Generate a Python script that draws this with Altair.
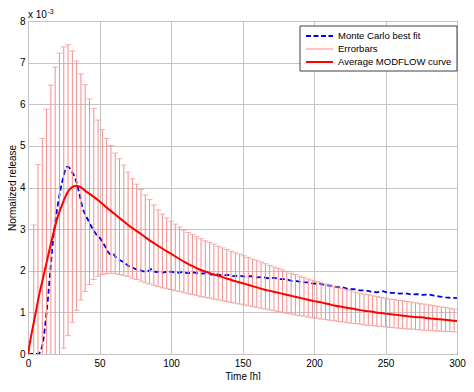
import altair as alt
import pandas as pd

# ---------------- data (values in units of 1e-3) ----------------
bar_t = list(range(1, 300, 3))
bar_hi = [
    0.30, 3.10, 4.55, 5.18, 5.88, 6.46, 6.89, 7.23, 7.38, 7.43,
    7.28, 7.04, 6.73, 6.47, 6.13, 5.90, 5.62, 5.39, 5.18, 5.01,
    4.83, 4.69, 4.54, 4.37, 4.21, 4.08, 3.95, 3.82, 3.71, 3.58,
    3.46, 3.36, 3.27, 3.19, 3.12, 3.05, 2.98, 2.92, 2.87, 2.82,
    2.77, 2.72, 2.68, 2.64, 2.59, 2.55, 2.51, 2.47, 2.43, 2.40,
    2.36, 2.32, 2.28, 2.25, 2.21, 2.17, 2.13, 2.09, 2.06, 2.02,
    1.98, 1.94, 1.91, 1.87, 1.84, 1.80, 1.77, 1.74, 1.71, 1.68,
    1.65, 1.62, 1.59, 1.57, 1.54, 1.52, 1.49, 1.46, 1.44, 1.42,
    1.40, 1.38, 1.36, 1.34, 1.32, 1.31, 1.29, 1.28, 1.26, 1.25,
    1.23, 1.21, 1.20, 1.18, 1.17, 1.15, 1.13, 1.12, 1.10, 1.08,
]
bar_lo = [
    -0.50, -1.60, -1.95, -1.70, -1.50, -1.05, -0.70, -0.40, 0.14, 0.44,
    0.76, 1.05, 1.30, 1.50, 1.67, 1.79, 1.87, 1.91, 1.93, 1.94,
    1.93, 1.91, 1.89, 1.86, 1.82, 1.79, 1.75, 1.71, 1.68, 1.65,
    1.62, 1.59, 1.57, 1.55, 1.52, 1.50, 1.47, 1.45, 1.43, 1.41,
    1.38, 1.36, 1.34, 1.32, 1.30, 1.28, 1.26, 1.24, 1.22, 1.20,
    1.18, 1.16, 1.14, 1.12, 1.10, 1.08, 1.06, 1.04, 1.02, 1.00,
    0.98, 0.96, 0.94, 0.92, 0.91, 0.89, 0.87, 0.86, 0.84, 0.83,
    0.81, 0.80, 0.78, 0.77, 0.75, 0.74, 0.73, 0.72, 0.70, 0.69,
    0.68, 0.67, 0.66, 0.65, 0.64, 0.63, 0.62, 0.61, 0.60, 0.60,
    0.59, 0.58, 0.57, 0.57, 0.56, 0.55, 0.55, 0.54, 0.54, 0.53,
]

red_t = [0, 2, 4, 6, 8, 10, 12, 14, 16, 18, 20, 22, 24, 26, 28, 30, 32, 34, 36, 38, 40,
         45, 50, 55, 60, 65, 70, 75, 80, 85, 90, 95, 100, 105, 110, 115, 120, 125, 130,
         135, 140, 145, 150, 155, 160, 165, 170, 175, 180, 185, 190, 195, 200, 205, 210,
         215, 220, 225, 230, 235, 240, 245, 250, 255, 260, 265, 270, 275, 280, 285, 290,
         295, 300]
red_v = [0, 0.40, 0.75, 1.10, 1.45, 1.75, 2.05, 2.35, 2.65, 2.93, 3.20, 3.42, 3.60, 3.77,
         3.90, 3.98, 4.03, 4.04, 4.02, 3.98, 3.92,
         3.80, 3.67, 3.52, 3.38, 3.24, 3.10, 2.98, 2.86, 2.73, 2.62, 2.51, 2.41, 2.30, 2.20,
         2.11, 2.03, 1.97, 1.91, 1.86, 1.80, 1.75, 1.70, 1.65, 1.60, 1.55, 1.51, 1.47, 1.43,
         1.39, 1.35, 1.31, 1.27, 1.24, 1.20, 1.16, 1.13, 1.10, 1.07, 1.04, 1.02, 0.99, 0.97,
         0.95, 0.93, 0.91, 0.89, 0.88, 0.86, 0.84, 0.83, 0.81, 0.79]

blue_t = [0, 4, 7, 8, 9, 10, 11, 12, 13, 14, 15, 16, 17, 18, 19, 20, 21, 22, 23, 24, 25,
          26, 27, 28, 29, 30, 31, 32, 33, 34, 35, 36, 37, 38, 39, 40, 42, 44, 46, 48, 50,
          52, 54, 56, 58, 60, 62, 64, 66, 68, 70, 72, 74, 76, 78, 80, 82, 84, 86, 88, 90,
          92, 94, 96, 98, 100, 104, 108, 112, 116, 120, 124, 128, 132, 136, 140, 144, 148,
          152, 156, 160, 164, 168, 172, 176, 180, 184, 188, 192, 196, 200, 204, 208, 212,
          216, 220, 224, 228, 232, 236, 240, 244, 248, 252, 256, 260, 264, 268, 272, 276,
          280, 284, 288, 292, 296, 300]
blue_v = [0, 0, 0, 0.02, 0.08, 0.20, 0.40, 0.68, 1.00, 1.35, 1.75, 2.15, 2.55, 2.88, 3.15,
          3.40, 3.62, 3.82, 4.00, 4.15, 4.30, 4.42, 4.49, 4.50, 4.47, 4.42, 4.36, 4.30, 4.22,
          4.12, 3.98, 3.84, 3.68, 3.54, 3.43, 3.35, 3.22, 3.08, 2.96, 2.86, 2.80, 2.70, 2.58,
          2.45, 2.37, 2.39, 2.30, 2.26, 2.22, 2.18, 2.12, 2.09, 2.06, 2.03, 2.03, 1.99, 1.98,
          1.99, 2.04, 1.98, 1.97, 1.98, 1.95, 1.97, 1.96, 1.98, 1.95, 1.97, 1.94, 1.96, 1.93,
          1.94, 1.91, 1.92, 1.88, 1.90, 1.87, 1.88, 1.86, 1.87, 1.84, 1.85, 1.82, 1.83, 1.80,
          1.80, 1.76, 1.75, 1.72, 1.72, 1.69, 1.69, 1.65, 1.64, 1.61, 1.60, 1.56, 1.56, 1.53,
          1.53, 1.50, 1.48, 1.51, 1.47, 1.47, 1.45, 1.46, 1.43, 1.44, 1.42, 1.43, 1.40, 1.38,
          1.36, 1.35, 1.34]

x_ticks = [0, 50, 100, 150, 200, 250, 300]
y_ticks = [0, 1, 2, 3, 4, 5, 6, 7, 8]
legend_labels = ["Monte Carlo best fit", "Errorbars", "Average MODFLOW curve"]

# ---------------- tables ----------------
n = min(len(bar_t), len(bar_hi), len(bar_lo))
bars = pd.DataFrame({"t": bar_t[:n], "hi": bar_hi[:n], "lo": bar_lo[:n]})
m = min(len(red_t), len(red_v))
red = pd.DataFrame({"t": red_t[:m], "v": red_v[:m]})
k = min(len(blue_t), len(blue_v))
blue = pd.DataFrame({"t": blue_t[:k], "v": blue_v[:k]})
one = pd.DataFrame({"a": [0]})

FONT = "Liberation Sans"
PINK = "#f28f8f"
RED = "#ff0000"
BLUE = "#0000e6"

W, H = 429, 333

xs = alt.Scale(domain=[0, 300], nice=False, zero=False)
ys = alt.Scale(domain=[0, 8], nice=False, zero=False)
xaxis = alt.Axis(values=x_ticks, title="Time [h]", grid=True, labelFlush=False,
                 labelPadding=4, titlePadding=3, format="d")
yaxis = alt.Axis(values=y_ticks, title="Normalized release", grid=True,
                 labelPadding=3, titlePadding=2, format="d")

X = alt.X("t:Q", scale=xs, axis=xaxis)

blue_line = alt.Chart(blue).mark_line(color=BLUE, strokeWidth=1.8, strokeDash=[5, 3],
                                      clip=True).encode(
    x=X, y=alt.Y("v:Q", scale=ys, axis=yaxis))

err_rule = alt.Chart(bars).mark_rule(color=PINK, strokeWidth=1, clip=True).encode(
    x=X, y=alt.Y("lo:Q", scale=ys, axis=yaxis), y2="hi:Q")
cap_hi = alt.Chart(bars).mark_tick(color=PINK, orient="horizontal", size=6, thickness=1,
                                   clip=True).encode(
    x=X, y=alt.Y("hi:Q", scale=ys, axis=yaxis))
cap_lo = alt.Chart(bars).mark_tick(color=PINK, orient="horizontal", size=6, thickness=1,
                                   clip=True).encode(
    x=X, y=alt.Y("lo:Q", scale=ys, axis=yaxis))

red_line = alt.Chart(red).mark_line(color=RED, strokeWidth=2, clip=True,
                                    interpolate="monotone").encode(
    x=X, y=alt.Y("v:Q", scale=ys, axis=yaxis))

# ---------------- legend (pixel layout) ----------------
LX0, LX1, LY0, LY1 = 272, 429, 5, 50
rows_y = [15, 28, 41]
leg_box = alt.Chart(one).mark_rect(fill="white", stroke="#404040", strokeWidth=1).encode(
    x=alt.value(LX0), x2=alt.value(LX1), y=alt.value(LY0), y2=alt.value(LY1))
leg_l1 = alt.Chart(one).mark_rule(color=BLUE, strokeWidth=1.8, strokeDash=[5, 2.5]).encode(
    x=alt.value(LX0 + 6), x2=alt.value(LX0 + 33), y=alt.value(rows_y[0]))
leg_l2 = alt.Chart(one).mark_rule(color=PINK, strokeWidth=1).encode(
    x=alt.value(LX0 + 6), x2=alt.value(LX0 + 33), y=alt.value(rows_y[1]))
leg_l3 = alt.Chart(one).mark_rule(color=RED, strokeWidth=2).encode(
    x=alt.value(LX0 + 6), x2=alt.value(LX0 + 33), y=alt.value(rows_y[2]))
leg_texts = [
    alt.Chart(one).mark_text(align="left", baseline="middle", font=FONT, fontSize=9.5,
                             color="black").encode(
        x=alt.value(LX0 + 38), y=alt.value(rows_y[i]), text=alt.value(legend_labels[i]))
    for i in range(3)
]

exp_main = alt.Chart(one).mark_text(align="left", baseline="alphabetic", font=FONT,
                                    fontSize=10, color="black").encode(
    x=alt.value(0), y=alt.value(-3), text=alt.value("x 10"))
exp_sup = alt.Chart(one).mark_text(align="left", baseline="alphabetic", font=FONT,
                                   fontSize=7, color="black").encode(
    x=alt.value(19.5), y=alt.value(-7.5), text=alt.value("-3"))

chart = alt.layer(
    blue_line, err_rule, cap_hi, cap_lo, red_line,
    leg_box, leg_l1, leg_l2, leg_l3, *leg_texts, exp_main, exp_sup,
).properties(
    width=W, height=H,
    autosize=alt.AutoSizeParams(type="none"),
    padding={"left": 20, "top": 13, "right": 9, "bottom": 26},
    background="white",
).configure_view(
    stroke="#4d4d4d", strokeWidth=1,
).configure_axis(
    grid=True, gridColor="#c4c4c4", gridWidth=1, domain=False, ticks=False,
    labelFont=FONT, labelFontSize=10, labelColor="black",
    titleFont=FONT, titleFontSize=10, titleColor="black", titleFontWeight="normal",
)

chart.save("out.html", embed_options={"renderer": "svg", "actions": False})
